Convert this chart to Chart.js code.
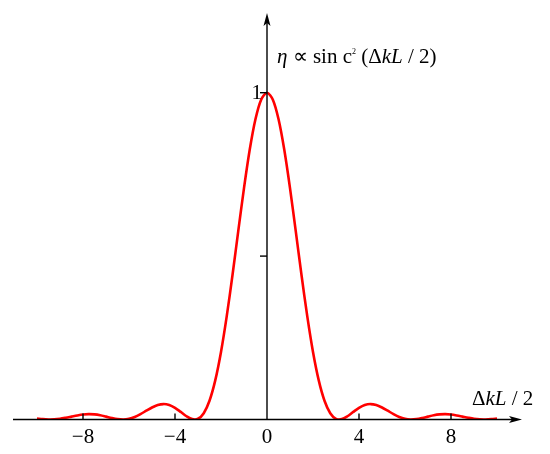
<!DOCTYPE html>
<html>
<head>
<meta charset="utf-8">
<script src="https://cdn.jsdelivr.net/npm/chart.js@4"></script>
<style>
  html, body { margin: 0; padding: 0; background: #fff; }
  #wrap { width: 550px; height: 454px; position: relative; }
</style>
</head>
<body>
<div id="wrap"><canvas id="chart"></canvas></div>
<script>
// sampled curve, eta vs ΔkL/2
const xValues = [
  -10, -9.75, -9.5, -9.25, -9, -8.75, -8.5, -8.25, -8, -7.75, -7.5, -7.25, -7, -6.75, -6.5, -6.25,
  -6, -5.75, -5.5, -5.25, -5, -4.75, -4.5, -4.25, -4, -3.75, -3.5, -3.25, -3, -2.75, -2.5, -2.25,
  -2, -1.75, -1.5, -1.25, -1, -0.75, -0.5, -0.25, 0, 0.25, 0.5, 0.75, 1, 1.25, 1.5, 1.75,
  2, 2.25, 2.5, 2.75, 3, 3.25, 3.5, 3.75, 4, 4.25, 4.5, 4.75, 5, 5.25, 5.5, 5.75,
  6, 6.25, 6.5, 6.75, 7, 7.25, 7.5, 7.75, 8, 8.25, 8.5, 8.75, 9, 9.25, 9.5, 9.75, 10
];
const etaValues = [
  0.0030, 0.0011, 0.0001, 0.0004, 0.0021, 0.0052, 0.0088, 0.0124, 0.0153, 0.0165, 0.0156, 0.0129, 0.0088, 0.0045, 0.0011, 0.0000,
  0.0022, 0.0078, 0.0165, 0.0268, 0.0368, 0.0443, 0.0472, 0.0444, 0.0358, 0.0232, 0.0100, 0.0011, 0.0022, 0.0193, 0.0573, 0.1196,
  0.2067, 0.3162, 0.4422, 0.5764, 0.7081, 0.8260, 0.9194, 0.9793, 1.0000, 0.9793, 0.9194, 0.8260, 0.7081, 0.5764, 0.4422, 0.3162,
  0.2067, 0.1196, 0.0573, 0.0193, 0.0022, 0.0011, 0.0100, 0.0232, 0.0358, 0.0444, 0.0472, 0.0443, 0.0368, 0.0268, 0.0165, 0.0078,
  0.0022, 0.0000, 0.0011, 0.0045, 0.0088, 0.0129, 0.0156, 0.0165, 0.0153, 0.0124, 0.0088, 0.0052, 0.0021, 0.0004, 0.0001, 0.0011, 0.0030
];
const xTicks = [-8, -4, 0, 4, 8];
const xTickLabels = ['\u22128', '\u22124', '0', '4', '8'];
const yTicks = [0.5, 1];
const yTickLabels = ['', '1'];

const SERIF = "'Liberation Serif', 'Times New Roman', serif";

// draws the arrowed axes, ticks and the text labels through the chart scales
const axesPlugin = {
  id: 'arrowAxes',
  afterDatasetsDraw(chart) {
    const { ctx, chartArea, scales: { x, y } } = chart;
    const x0 = x.getPixelForValue(0);
    const y0 = y.getPixelForValue(0);
    ctx.save();
    ctx.strokeStyle = '#000';
    ctx.fillStyle = '#000';
    ctx.lineWidth = 1.4;

    // x axis
    const xEnd = chartArea.right + 2;
    ctx.beginPath();
    ctx.moveTo(chartArea.left - 1, y0);
    ctx.lineTo(xEnd - 8, y0);
    ctx.stroke();
    ctx.beginPath();
    ctx.moveTo(xEnd, y0);
    ctx.lineTo(xEnd - 13, y0 - 3.5);
    ctx.lineTo(xEnd - 10, y0);
    ctx.lineTo(xEnd - 13, y0 + 3.5);
    ctx.closePath();
    ctx.fill();

    // y axis
    const yTop = chartArea.top + 2;
    ctx.beginPath();
    ctx.moveTo(x0, y0);
    ctx.lineTo(x0, yTop + 8);
    ctx.stroke();
    ctx.beginPath();
    ctx.moveTo(x0, yTop);
    ctx.lineTo(x0 - 3.5, yTop + 13);
    ctx.lineTo(x0, yTop + 10);
    ctx.lineTo(x0 + 3.5, yTop + 13);
    ctx.closePath();
    ctx.fill();

    // x ticks (pointing up) + labels
    ctx.font = '21px ' + SERIF;
    ctx.textAlign = 'center';
    ctx.textBaseline = 'middle';
    xTicks.forEach((v, i) => {
      const px = x.getPixelForValue(v);
      if (v !== 0) {
        ctx.beginPath();
        ctx.moveTo(px, y0);
        ctx.lineTo(px, y0 - 6);
        ctx.stroke();
      }
      ctx.fillText(xTickLabels[i], px, y0 + 18);
    });

    // y ticks (pointing left) + labels
    ctx.textAlign = 'right';
    yTicks.forEach((v, i) => {
      const py = y.getPixelForValue(v);
      ctx.beginPath();
      ctx.moveTo(x0, py);
      ctx.lineTo(x0 - 7, py);
      ctx.stroke();
      if (yTickLabels[i]) ctx.fillText(yTickLabels[i], x0 - 5, py + 1);
    });

    // mixed-style text runs
    const drawRuns = (runs, sx, by) => {
      ctx.textAlign = 'left';
      ctx.textBaseline = 'alphabetic';
      let cx = sx;
      runs.forEach(r => {
        ctx.font = (r.italic ? 'italic ' : '') + r.size + 'px ' + SERIF;
        ctx.fillText(r.t, cx, by + (r.dy || 0));
        cx += ctx.measureText(r.t).width;
      });
    };

    drawRuns([
      { t: '\u03B7', italic: true, size: 21 },
      { t: ' \u221D sin c', size: 21 },
      { t: '2', size: 8, dy: -9 },
      { t: ' (\u0394', size: 21 },
      { t: 'kL', italic: true, size: 21 },
      { t: ' / 2)', size: 21 }
    ], 277, 63);

    drawRuns([
      { t: '\u0394', size: 21 },
      { t: 'kL', italic: true, size: 21 },
      { t: ' / 2', size: 21 }
    ], 472, 405);

    ctx.restore();
  }
};

new Chart(document.getElementById('chart'), {
  type: 'line',
  data: {
    datasets: [{
      data: xValues.map((v, i) => ({ x: v, y: etaValues[i] })),
      borderColor: '#ff0000',
      borderWidth: 2.6,
      pointRadius: 0,
      tension: 0.3,
      fill: false
    }]
  },
  options: {
    responsive: true,
    maintainAspectRatio: false,
    animation: false,
    layout: { padding: { left: 14, right: 30, top: 11, bottom: 34.5 } },
    scales: {
      x: { type: 'linear', min: -11, max: 11, display: false },
      y: { type: 'linear', min: 0, max: 1.25, display: false }
    },
    plugins: {
      legend: { display: false },
      tooltip: { enabled: false }
    }
  },
  plugins: [axesPlugin]
});
</script>
</body>
</html>
